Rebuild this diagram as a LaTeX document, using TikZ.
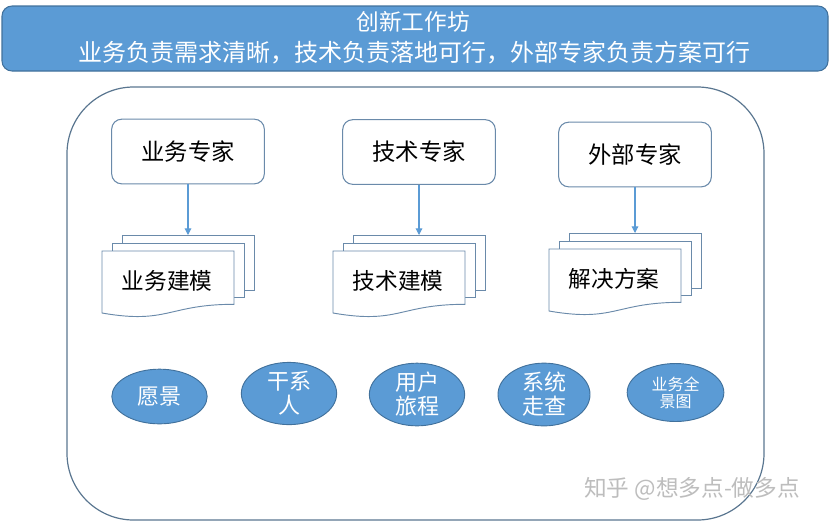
\documentclass[tikz,border=0pt]{standalone}
\usepackage{fontspec}
\setmainfont{Noto Sans CJK SC}
\usetikzlibrary{shapes.geometric,arrows.meta}
\definecolor{fillblue}{HTML}{5B9BD5}
\definecolor{edgeblue}{HTML}{41719C}
\definecolor{boxedge}{HTML}{6A8AAA}
\definecolor{outline}{HTML}{5A7690}
\definecolor{wmark}{HTML}{BDBDBD}
\tikzset{
  expert/.style={draw=boxedge, line width=0.8pt, fill=white, rounded corners=7.5pt,
    minimum width=114.5pt, minimum height=48.5pt, inner sep=0pt, font=\fontsize{17.5}{20}\selectfont},
  doctext/.style={font=\fontsize{17}{20}\selectfont, inner sep=0pt},
  docshape/.style={draw=boxedge, line width=0.7pt, fill=white},
  oval/.style={ellipse, draw=edgeblue, line width=0.7pt, fill=fillblue, text=white,
    minimum width=71.5pt, minimum height=41pt, inner sep=0pt, align=center,
    font=\fontsize{16.5}{19}\selectfont},
  arr/.style={draw=fillblue, line width=0.8pt, -{Triangle[length=5pt,width=5pt]}}
}
% #1 front left x, #2 front top y, #3 name
\newcommand\mdoc[3]{%
  \draw[docshape] (#1+20,#2-16) rectangle (#1+152,#2+39);
  \draw[docshape] (#1+10,#2-8) rectangle (#1+142,#2+46);
  \draw[docshape] (#1,#2) -- (#1+132,#2) -- (#1+132,#2+53.3)
     .. controls (#1+66,#2+53.3) and (#1+66,#2+73.5) .. (#1,#2+62) -- cycle;
  \coordinate (#3top) at (#1+86,#2-16);
}
\begin{document}
\begin{tikzpicture}[x=0.75pt,y=-0.75pt]
\useasboundingbox (0,0) rectangle (830,522);
% banner
\node[draw=edgeblue, line width=0.8pt, fill=fillblue, rounded corners=7.5pt,
  minimum width=619.5pt, minimum height=48.75pt, inner sep=0pt] (banner) at (415,38.5) {};
\node[text=white, font=\fontsize{17}{20}\selectfont, inner sep=0pt] (title) at (413,22) {创新工作坊};
\node[text=white, font=\fontsize{18}{22}\selectfont, inner sep=0pt] (subtitle) at (414,53) {业务负责需求清晰，技术负责落地可行，外部专家负责方案可行};
% big frame
\draw[outline, line width=0.9pt, rounded corners=50pt] (67,87) rectangle (764,520);
% experts
\node[expert] (e1) at (188,151.5) {业务专家};
\node[expert] (e2) at (419,152) {技术专家};
\node[expert] (e3) at (635,154.5) {外部专家};
% documents
\mdoc{102}{251}{a}
\mdoc{333}{251}{b}
\mdoc{549}{249}{c}
\node[doctext] (d1) at (167,281) {业务建模};
\node[doctext] (d2) at (398,281) {技术建模};
\node[doctext] (d3) at (614,279) {解决方案};
% arrows
\draw[arr] (e1.south) -- (e1.south |- atop);
\draw[arr] (e2.south) -- (e2.south |- btop);
\draw[arr] (e3.south) -- (e3.south |- ctop);
% ovals
\node[oval] (o1) at (159.5,396.5) {愿景};
\node[oval, minimum height=43pt] (o2) at (289,393.5) {干系\\[-1pt]人};
\node[oval] (o3) at (417,394.5) {用户\\[-1pt]旅程};
\node[oval, minimum width=69pt, minimum height=40pt] (o4) at (544,394.5) {系统\\[-1pt]走查};
\node[oval, minimum width=72.5pt, minimum height=43.5pt, font=\fontsize{12}{13}\selectfont] (o5) at (675.5,392.5) {业务全\\景图};
% watermark
\node[text=wmark, font=\fontsize{17}{20}\selectfont, inner sep=0pt] (wm) at (692,489) {知乎 @想多点-做多点};
\end{tikzpicture}
\end{document}
